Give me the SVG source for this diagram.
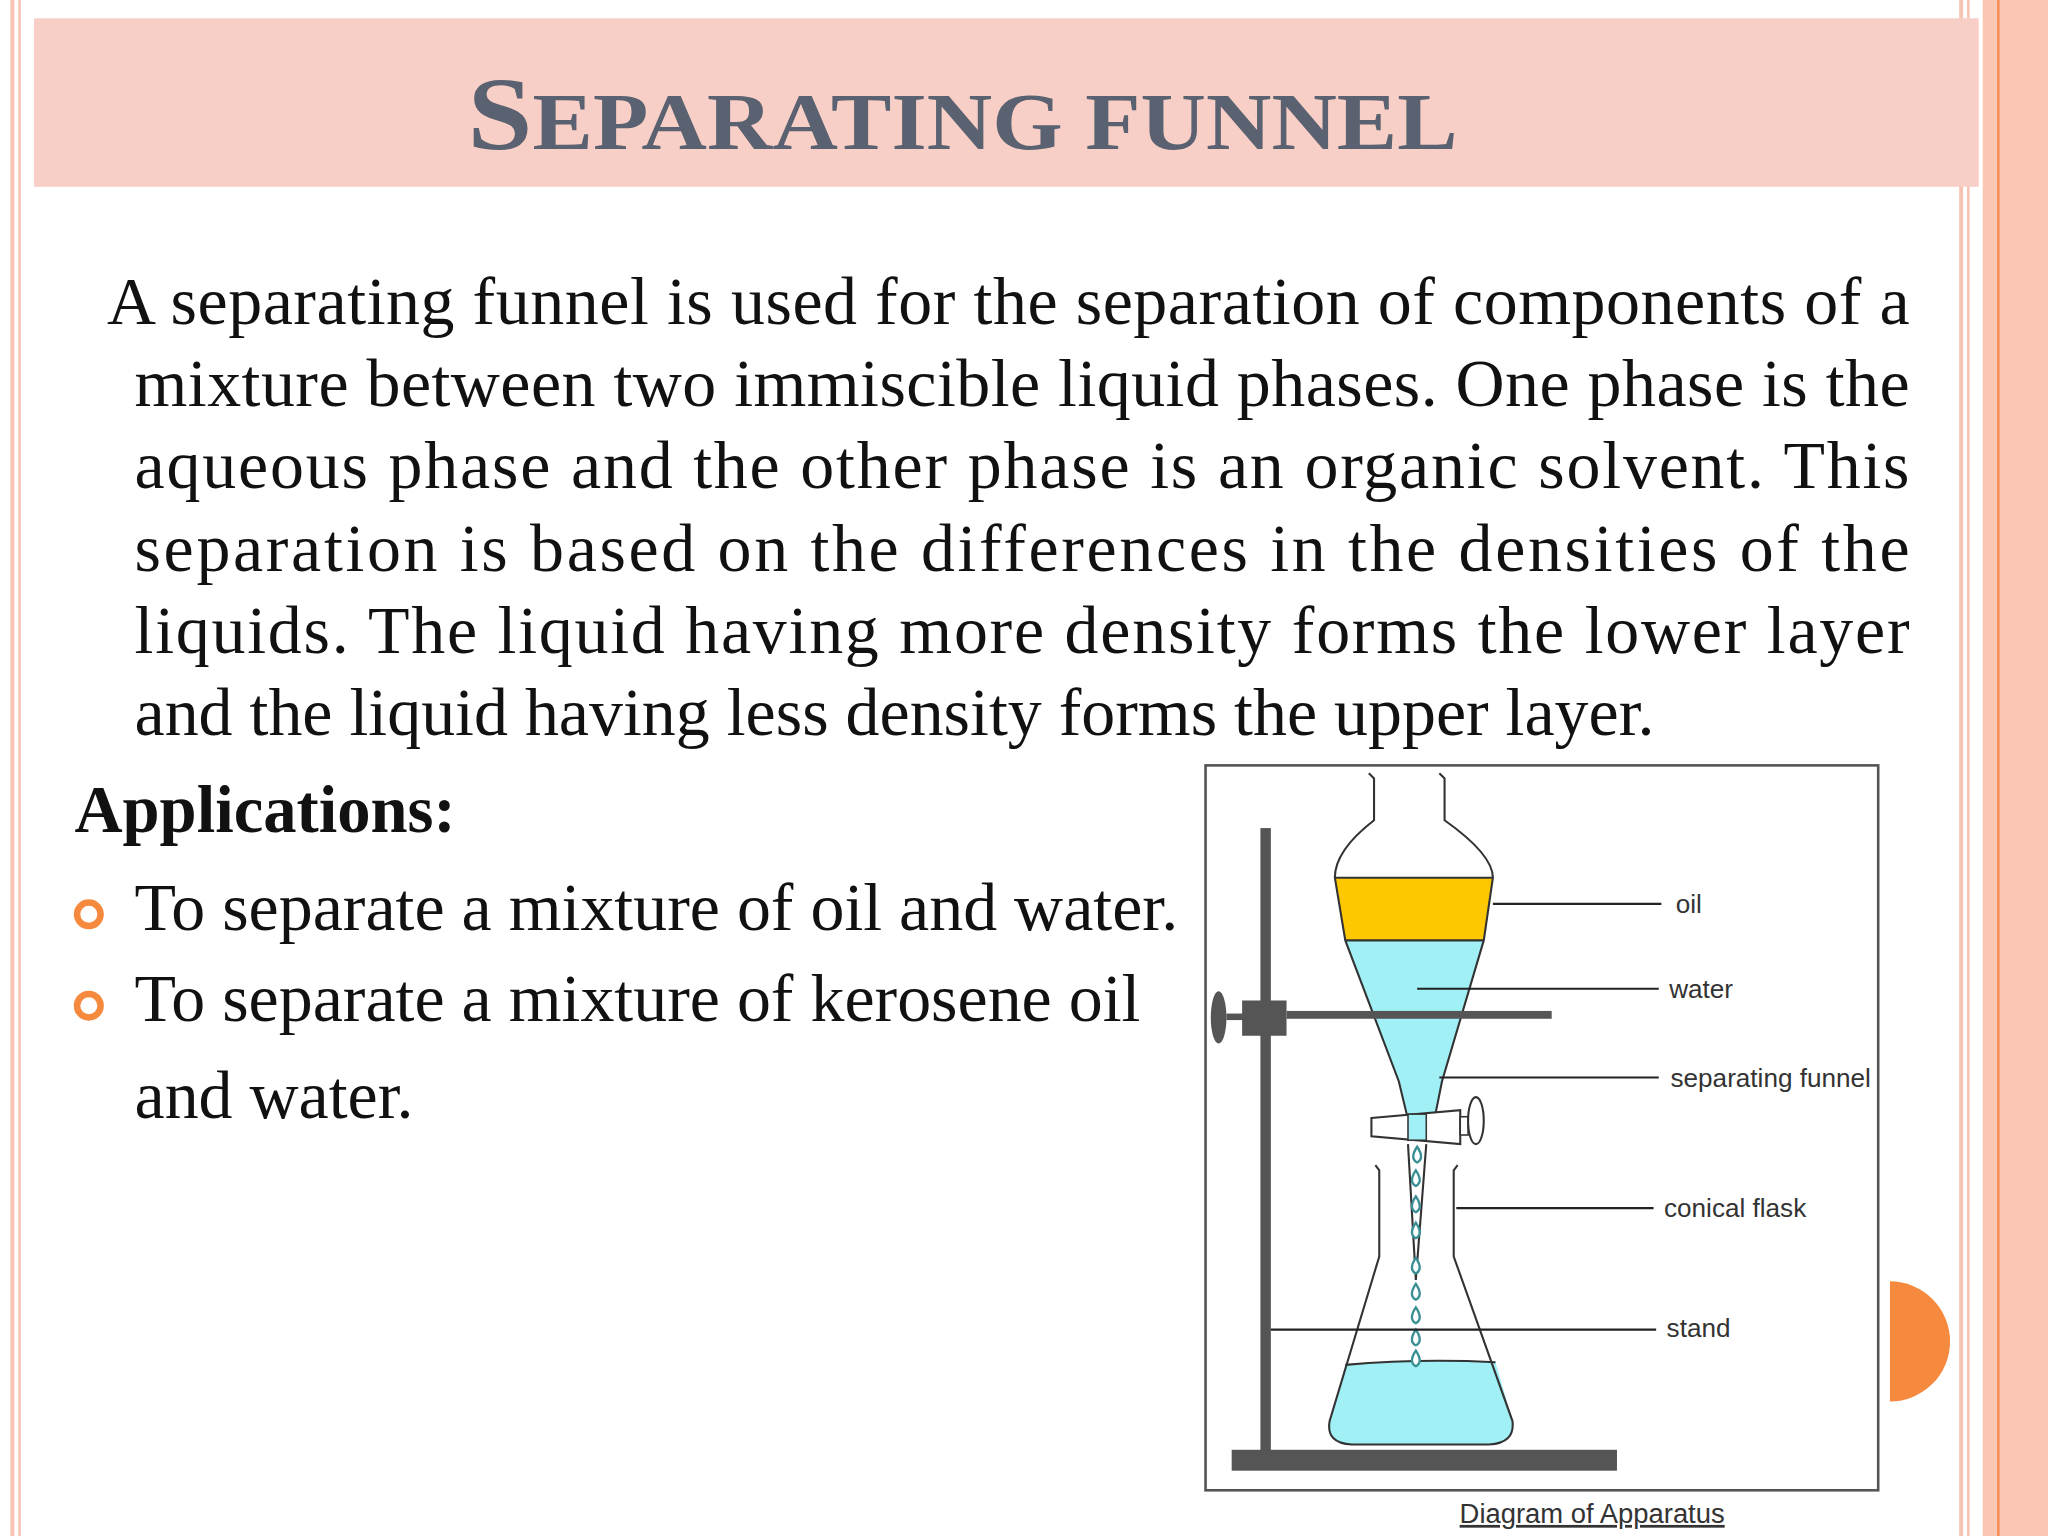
<svg xmlns="http://www.w3.org/2000/svg" width="2048" height="1536" viewBox="0 0 2048 1536">
<style>
.body{font-family:"Liberation Serif","Times New Roman",serif;font-size:52px;fill:#111}
.lab{font-family:"Liberation Sans",Arial,sans-serif;font-size:20px;fill:#333}
.ln{stroke:#222;stroke-width:1.6;fill:none}
.glass{stroke:#333;stroke-width:1.6}
</style>
<rect width="2048" height="1536" fill="#fff"/>
<g transform="scale(1.30612)">
<g id="frame">
<rect x="8" y="0" width="3" height="1176" fill="#f7c4b4"/>
<rect x="14" y="0" width="2" height="1176" fill="#f7c4b4"/>
<rect x="1500" y="0" width="3" height="1176" fill="#f7c4b4"/>
<rect x="1506" y="0" width="2" height="1176" fill="#f7c4b4"/>
<rect x="1518" y="0" width="50" height="1176" fill="#f9c7b4"/>
<rect x="1529" y="0" width="2" height="1176" fill="#f5905a"/>
<rect x="26" y="14" width="1489" height="129" fill="#f8cfc6"/>
<text x="358" y="114" font-family="Liberation Serif,serif" font-weight="bold" fill="#5a6170" textLength="758" lengthAdjust="spacingAndGlyphs"><tspan font-size="80">S</tspan><tspan font-size="62">EPARATING FUNNEL</tspan></text>
</g>
<g id="paragraph" class="body">
<text x="82" y="248" textLength="1380" lengthAdjust="spacing">A separating funnel is used for the separation of components of a</text>
<text x="103" y="311" textLength="1359" lengthAdjust="spacing">mixture between two immiscible liquid phases. One phase is the</text>
<text x="103" y="374" textLength="1359" lengthAdjust="spacing">aqueous phase and the other phase is an organic solvent. This</text>
<text x="103" y="437" textLength="1359" lengthAdjust="spacing">separation is based on the differences in the densities of the</text>
<text x="103" y="500" textLength="1359" lengthAdjust="spacing">liquids. The liquid having more density forms the lower layer</text>
<text x="103" y="563">and the liquid having less density forms the upper layer.</text>
</g>
<g id="applications" class="body">
<text x="57" y="637" font-weight="bold" font-size="51">Applications:</text>
<circle cx="68" cy="700" r="9" fill="none" stroke="#f58a3e" stroke-width="5"/>
<circle cx="68" cy="770" r="9" fill="none" stroke="#f58a3e" stroke-width="5"/>
<text x="103" y="712">To separate a mixture of oil and water.</text>
<text x="103" y="782">To separate a mixture of kerosene oil</text>
<text x="103" y="856">and water.</text>
</g>
<path id="orange-tab" d="M1447,981 A46,46 0 0 1 1447,1073 Z" fill="#f58a3e"/>
<g id="apparatus">
<rect x="923" y="586" width="515" height="555" fill="#fff" stroke="#555" stroke-width="2"/>
<rect x="965" y="634" width="8" height="480" fill="#555"/>
<rect x="943" y="1110" width="295" height="16" fill="#555"/>
<rect x="939" y="776" width="14" height="5" fill="#555"/>
<ellipse cx="933" cy="779" rx="6" ry="20" fill="#555"/>
<rect x="951" y="766" width="34" height="27" fill="#555"/>
<path d="M1022,672 L1143,672 L1136,720 L1030,720 Z" fill="#fec800"/>
<path d="M1030,720 L1136,720 L1104,828 L1099,853 L1077,853 L1071,828 Z" fill="#a0f0f5"/>
<path class="glass" fill="none" d="M1048,592 L1052,596 L1052,628 C1030,645 1022,660 1022,672 L1030,720 L1071,828 L1077,853 M1102,592 L1106,596 L1106,628 C1130,645 1143,660 1143,672 L1136,720 L1104,828 L1099,853"/>
<line class="glass" x1="1022" y1="672" x2="1143" y2="672"/>
<line class="glass" x1="1030" y1="720" x2="1136" y2="720"/>
<rect x="985" y="774" width="203" height="6" fill="#555"/>
<path class="glass" fill="#fff" d="M1050,856 L1118,850 L1118,876 L1050,870 Z"/>
<rect x="1078" y="853" width="14" height="20" fill="#a0f0f5" stroke="#333" stroke-width="1.2"/>
<rect x="1118" y="855" width="6" height="14" fill="#fff" stroke="#333" stroke-width="1.2"/>
<ellipse cx="1130" cy="858" rx="6" ry="18" fill="#fff" stroke="#333" stroke-width="1.6"/>
<path class="glass" fill="none" d="M1078,876 L1084,980 L1092,876"/>
<path d="M1030,1045 Q1087,1040 1145,1043 L1158,1088 Q1160,1105 1140,1106 L1035,1106 Q1015,1105 1018,1088 Z" fill="#a0f0f5"/>
<path class="glass" fill="none" d="M1053,892 L1056,896 L1056,962 L1018,1088 Q1015,1105 1035,1106 L1140,1106 Q1160,1105 1158,1088 L1113,962 L1113,896 L1116,892"/>
<path class="glass" fill="none" d="M1030,1045 Q1087,1040 1145,1043"/>
<g fill="#fff" stroke="#3a8f95" stroke-width="1.8">
<path d="M1085,878 q-6,9 0,12 q6,-3 0,-12z"/>
<path d="M1084,896 q-6,9 0,12 q6,-3 0,-12z"/>
<path d="M1084,916 q-6,9 0,12 q6,-3 0,-12z"/>
<path d="M1084,936 q-6,9 0,12 q6,-3 0,-12z"/>
<path d="M1084,963 q-6,9 0,12 q6,-3 0,-12z"/>
<path d="M1084,983 q-6,9 0,12 q6,-3 0,-12z"/>
<path d="M1084,1001 q-6,9 0,12 q6,-3 0,-12z"/>
<path d="M1084,1018 q-6,9 0,12 q6,-3 0,-12z"/>
<path d="M1084,1034 q-6,9 0,12 q6,-3 0,-12z"/>
</g>
</g>
<g id="connectors">
<line class="ln" x1="1143" y1="692" x2="1272" y2="692"/>
<line class="ln" x1="1085" y1="757" x2="1270" y2="757"/>
<line class="ln" x1="1102" y1="825" x2="1270" y2="825"/>
<line class="ln" x1="1115" y1="925" x2="1266" y2="925"/>
<line class="ln" x1="973" y1="1018" x2="1268" y2="1018"/>
</g>
<g id="labels" class="lab">
<text x="1283" y="699">oil</text>
<text x="1278" y="764">water</text>
<text x="1279" y="832">separating funnel</text>
<text x="1274" y="932">conical flask</text>
<text x="1276" y="1024">stand</text>
<text x="1219" y="1166" text-anchor="middle" font-size="21" text-decoration="underline">Diagram of Apparatus</text>
</g>
</g>
</svg>
